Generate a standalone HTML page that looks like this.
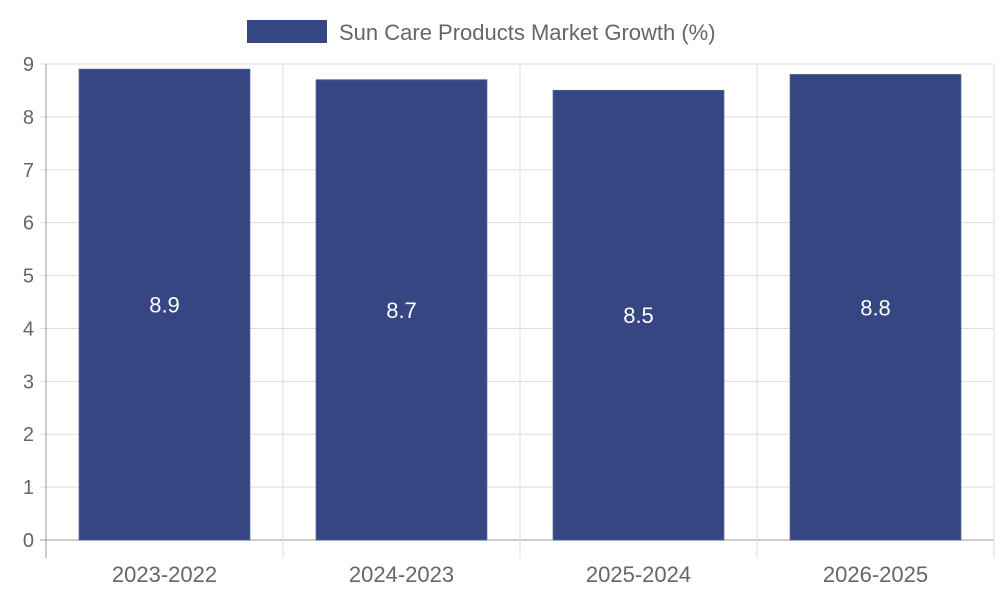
<!DOCTYPE html>
<html><head><meta charset="utf-8"><style>
body{margin:0;background:#fff;font-family:"Liberation Sans",sans-serif}
</style></head><body>
<svg width="1000" height="600" xmlns="http://www.w3.org/2000/svg" font-family="Liberation Sans, sans-serif">
<g>
<rect x="247" y="20" width="80" height="23" fill="#364682"/>
<text x="339" y="40" font-size="22" fill="#666">Sun Care Products Market Growth (%)</text>
</g>
<g id="grid"></g>
<g id="bars"></g>
<g id="axes"></g>
</svg>
<script>
const categories = ["2023-2022","2024-2023","2025-2024","2026-2025"];
const values = [8.9,8.7,8.5,8.8];
const yTicks = [0,1,2,3,4,5,6,7,8,9];
const L=46,R=994,T=64,B=540,yMax=9;
const ns="http://www.w3.org/2000/svg";
const y=v=>B-(v/yMax)*(B-T);
const bw=(R-L)/categories.length;
const x=i=>L+bw*i;
function mk(tag,attrs,parent,txt){const e=document.createElementNS(ns,tag);for(const k in attrs)e.setAttribute(k,attrs[k]);if(txt!==undefined)e.textContent=txt;parent.appendChild(e);return e;}
const g=document.getElementById('grid'),b=document.getElementById('bars'),a=document.getElementById('axes');
yTicks.forEach(t=>{
  const ln=mk('line',{x1:L-6,x2:R,y1:y(t),y2:y(t),stroke:t===0?'#999':'#ddd','stroke-width':1},g);
  
  
  const tx=mk('text',{x:L-12,y:y(t)+7,'text-anchor':'end','font-size':20,fill:'#666'},a,t);
  
  
});
for(let i=0;i<=categories.length;i++){
  const ln=mk('line',{x1:x(i),x2:x(i),y1:T,y2:B+18,stroke:i===0?'#999':'#ddd','stroke-width':1},g);
  
  
}
categories.forEach((c,i)=>{
  const w=bw*0.72,cx=x(i)+bw/2;
  const r=mk('rect',{x:cx-w/2,y:y(values[i]),width:w,height:B-y(values[i]),fill:'#364682',stroke:'#4a5a94','stroke-width':1},b);
  
  
  const vl=mk('text',{x:cx,y:(y(values[i])+B)/2+8,'text-anchor':'middle','font-size':22,fill:'#fff'},b,values[i]);
  
  
  const xl=mk('text',{x:cx,y:582,'text-anchor':'middle','font-size':22,fill:'#666'},a,c);
  
  
});
</script>
</body></html>
